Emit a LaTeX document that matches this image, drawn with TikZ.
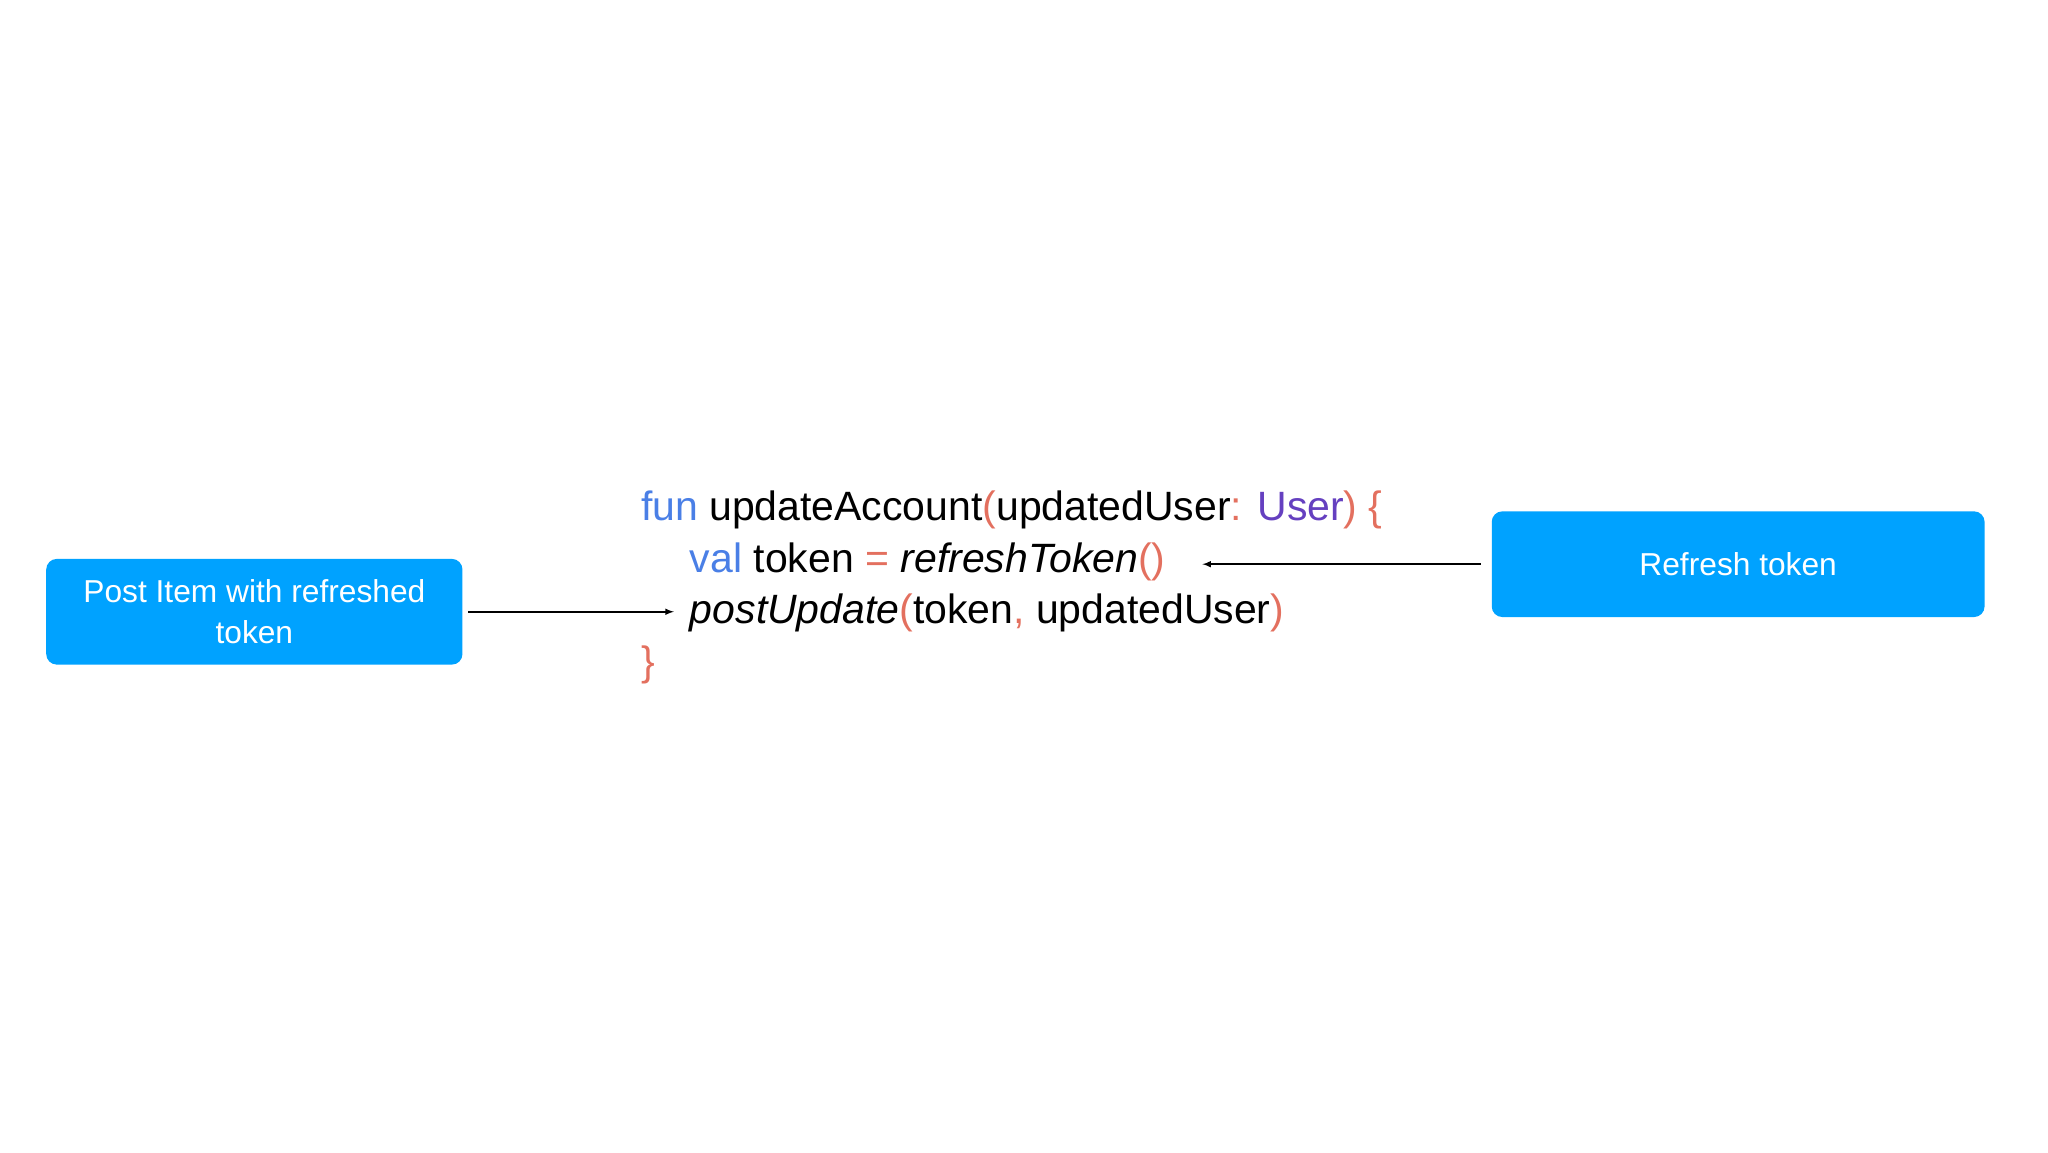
\documentclass[tikz,border=0pt]{standalone}
\usepackage{fontspec}
\setmainfont{Liberation Sans}
\definecolor{boxblue}{HTML}{00A2FF}
\definecolor{kw}{HTML}{4A7FE6}
\definecolor{ty}{HTML}{6540C0}
\definecolor{pn}{HTML}{E3705F}
\newcommand{\p}[1]{\textcolor{pn}{#1}}
\begin{document}
\begin{tikzpicture}[x=1pt,y=-1pt,
  box/.style={fill=boxblue,rounded corners=8pt,text=white,align=center,font=\fontsize{24}{31}\selectfont},
  code/.style={anchor=base west,inner sep=0pt,font=\fontsize{31}{38}\selectfont},
  arr/.style={-latex,line width=1.2pt}]
\useasboundingbox (0,0) rectangle (1550,872);
\node[box,minimum width=315,minimum height=80] (post) at (192.5,463) {Post Item with refreshed\\token};
\node[box,minimum width=373,minimum height=80] (refresh) at (1315.5,427) {Refresh token};
\node[code] (l1) at (485,394) {\textcolor{kw}{fun} updateAccount\p{(}updatedUser\p{:} \textcolor{ty}{User}\p{)} \p{\{}};
\node[code] (l2) at (522,433) {\textcolor{kw}{val} token \p{=} \textit{refreshToken}\p{()}};
\node[code] (l3) at (522,472) {\textit{postUpdate}\p{(}token\p{,} updatedUser\p{)}};
\node[code] (l4) at (485,511) {\p{\}}};
\coordinate (t2) at (910,427);
\coordinate (t3) at (510,463);
\draw[arr] (refresh.west) ++(-8,0) -- (t2);
\draw[arr] (post.east) ++(4,0) -- (t3);
\end{tikzpicture}
\end{document}
